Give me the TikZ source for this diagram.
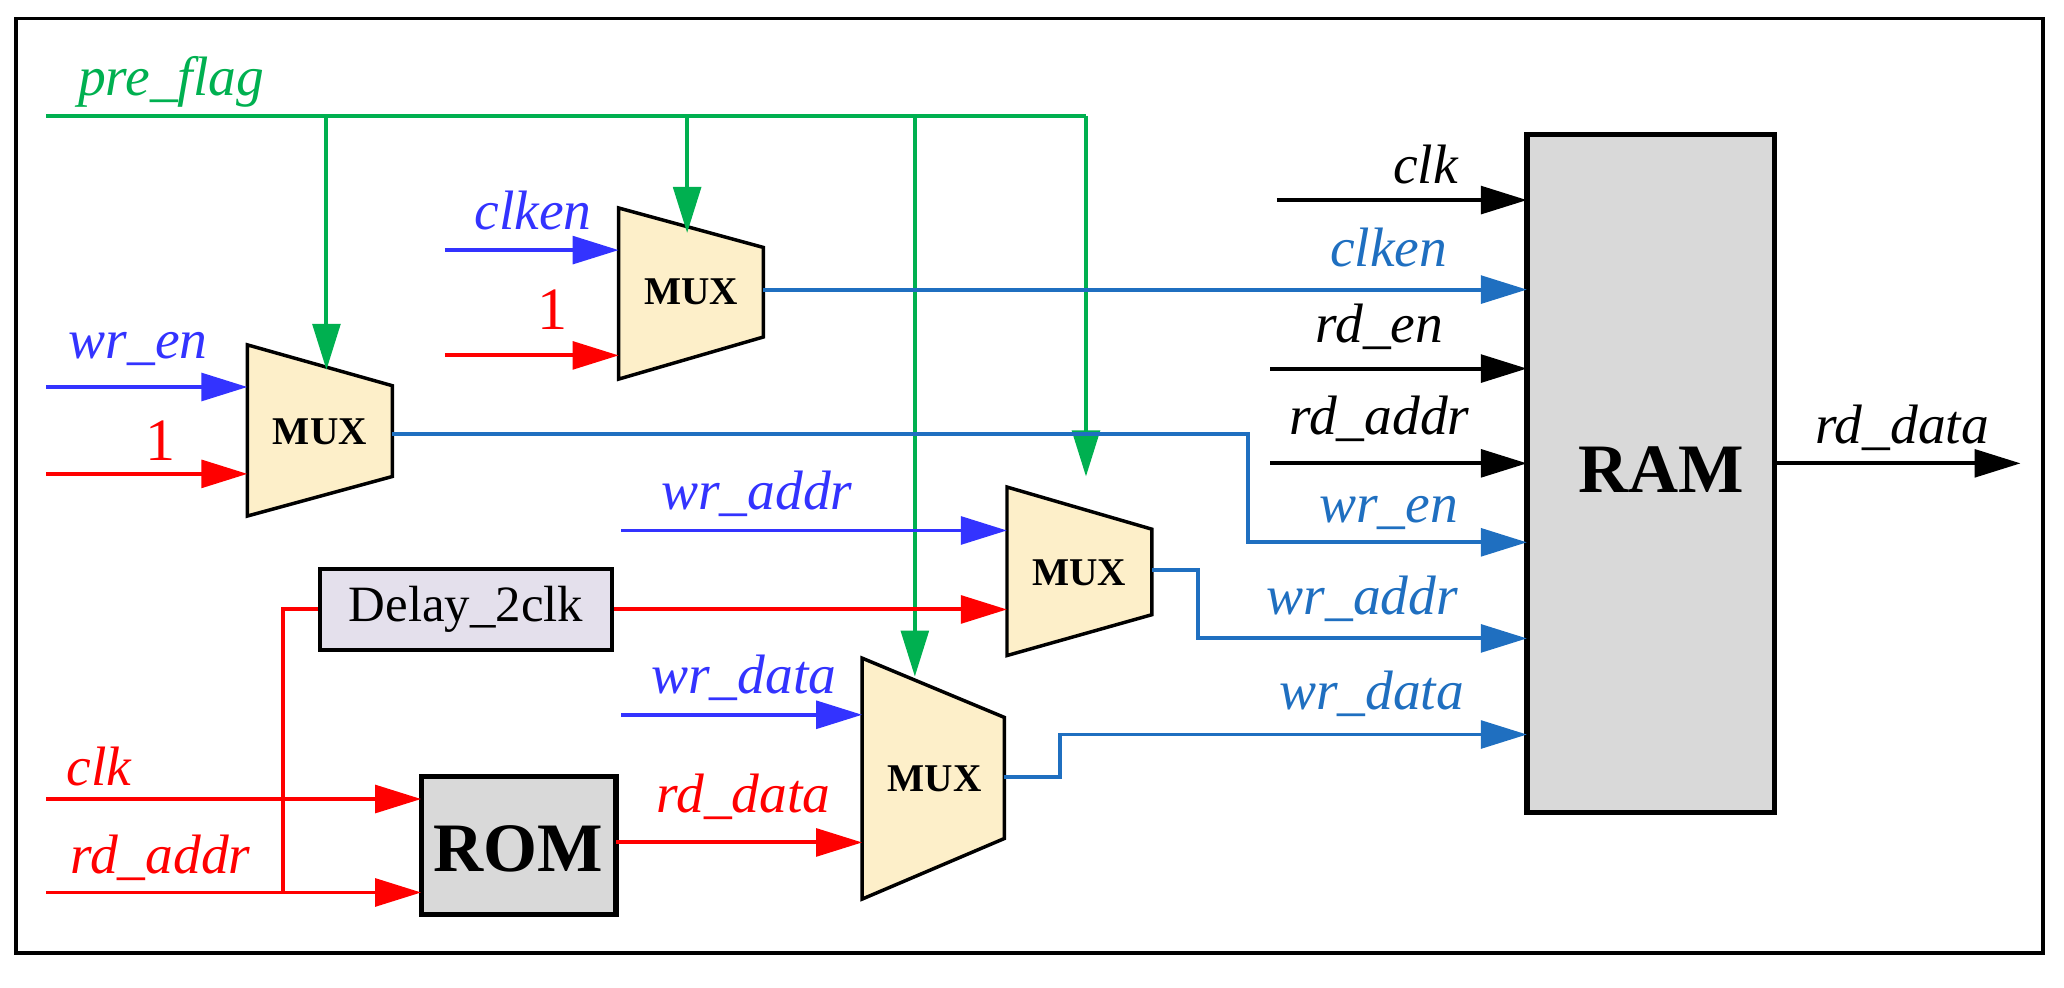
\documentclass[tikz,border=0pt]{standalone}
\usepackage{fontspec}
\setmainfont{Liberation Serif}
\usetikzlibrary{arrows.meta}
\definecolor{grn}{HTML}{00B050}
\definecolor{blu}{HTML}{3333FF}
\definecolor{dblu}{HTML}{1F6FC0}
\definecolor{red2}{HTML}{FF0000}
\definecolor{muxf}{HTML}{FDEFC9}
\definecolor{gry}{HTML}{D9D9D9}
\definecolor{dly}{HTML}{E4E0EC}
\begin{document}
\begin{tikzpicture}[x=0.02cm,y=-0.02cm,
  w/.style={line width=1.7pt},
  ar/.style={w,-{Triangle[length=0.7cm,width=0.42cm]}},
  lab/.style={font=\fontsize{24}{28}\selectfont\itshape,inner sep=0pt},
  mux/.style={draw,line width=1.5pt,fill=muxf,line join=miter},
  muxt/.style={font=\fontsize{17}{20}\selectfont\bfseries},
  blk/.style={draw,line width=2.2pt,fill=gry}]
\useasboundingbox (0,0) rectangle (1568,750);
\draw[line width=1.5pt] (12,14) rectangle (1552,724);
% RAM
\node[blk,minimum width=3.76cm,minimum height=10.3cm] (ram) at (1254,359.5) {};
\node[font=\fontsize{30}{34}\selectfont\bfseries] (ramt) at (1262,357) {RAM};
% ROM
\node[blk,minimum width=2.96cm,minimum height=2.1cm] (rom) at (394,642.5) {};
\node[font=\fontsize{30}{34}\selectfont\bfseries] at (394,645) {ROM};
% Delay
\node[draw,line width=1.8pt,fill=dly,minimum width=4.44cm,minimum height=1.24cm,font=\fontsize{22}{26}\selectfont] (dl) at (354,463) {Delay\_2clk};
% MUXes
\draw[mux] (188,262)--(298,293)--(298,362)--(188,392)--cycle; \node[muxt] (m1) at (243,328){MUX};
\draw[mux] (470,158)--(580,188)--(580,256)--(470,288)--cycle; \node[muxt] (m2) at (525,222){MUX};
\draw[mux] (765,370)--(875,402)--(875,467)--(765,498)--cycle; \node[muxt] (m3) at (820,435){MUX};
\draw[mux] (655,500)--(763,545)--(763,637)--(655,683)--cycle; \node[muxt] (m4) at (710,592){MUX};
% pre_flag
\node[lab,text=grn] at (130,62) {pre\_flag};
\coordinate (g0) at (35,88);
\draw[w,grn] (g0) -- (825,88);
\draw[ar,grn] (825,88) -- (825,362);
\draw[ar,grn] (248,88) -- (248,281);
\draw[ar,grn] (522,88) -- (522,177);
\draw[ar,grn] (695,88) -- (695,514);
% MUX1 inputs
\node[lab,text=blu] at (105,265) {wr\_en};
\draw[ar,blu] (35,294) -- (188,294);
\node[lab,text=red2,font=\fontsize{26}{30}\selectfont] at (122,335) {1};
\draw[ar,red2] (35,360) -- (188,360);
% MUX2 inputs
\node[lab,text=blu] at (405,160) {clken};
\draw[ar,blu] (338,190) -- (470,190);
\node[lab,text=red2,font=\fontsize{26}{30}\selectfont] at (420,235) {1};
\draw[ar,red2] (338,270) -- (470,270);
% MUX3 inputs
\node[lab,text=blu] at (575,375) {wr\_addr};
\draw[ar,blu] (472,403) -- (765,403);
\draw[ar,red2] (dl.east) -- (765,463);
% MUX4 inputs
\node[lab,text=blu] at (565,515) {wr\_data};
\draw[ar,blu] (472,543) -- (655,543);
\node[lab,text=red2] at (565,605) {rd\_data};
\draw[ar,red2] (468,640) -- (655,640);
% left red
\node[lab,text=red2] at (75,582) {clk};
\draw[ar,red2] (35,607) -- (320,607);
\node[lab,text=red2] at (122,652) {rd\_addr};
\draw[ar,red2] (35,678) -- (320,678);
\draw[w,red2] (215,678) -- (215,463) -- (dl.west);
% outputs to RAM
\draw[ar,dblu] (580,220) -- (1160,220);
\node[lab,text=dblu] at (1055,188) {clken};
\draw[ar,dblu] (298,330) -- (948,330) -- (948,412) -- (1160,412);
\node[lab,text=dblu] at (1055,390) {wr\_en};
\draw[ar,dblu] (875,433) -- (910,433) -- (910,485) -- (1160,485);
\node[lab,text=dblu] at (1035,455) {wr\_addr};
\draw[ar,dblu] (763,590) -- (805,590) -- (805,558) -- (1160,558);
\node[lab,text=dblu] at (1042,527) {wr\_data};
% black RAM inputs
\node[lab] at (1083,125) {clk};
\draw[ar] (970,152) -- (1160,152);
\node[lab] at (1048,248) {rd\_en};
\draw[ar] (965,280) -- (1160,280);
\node[lab] at (1048,318) {rd\_addr};
\draw[ar] (965,352) -- (1160,352);
\draw[ar] (1348,352) -- (1535,352);
\node[lab] at (1445,325) {rd\_data};
\end{tikzpicture}
\end{document}
